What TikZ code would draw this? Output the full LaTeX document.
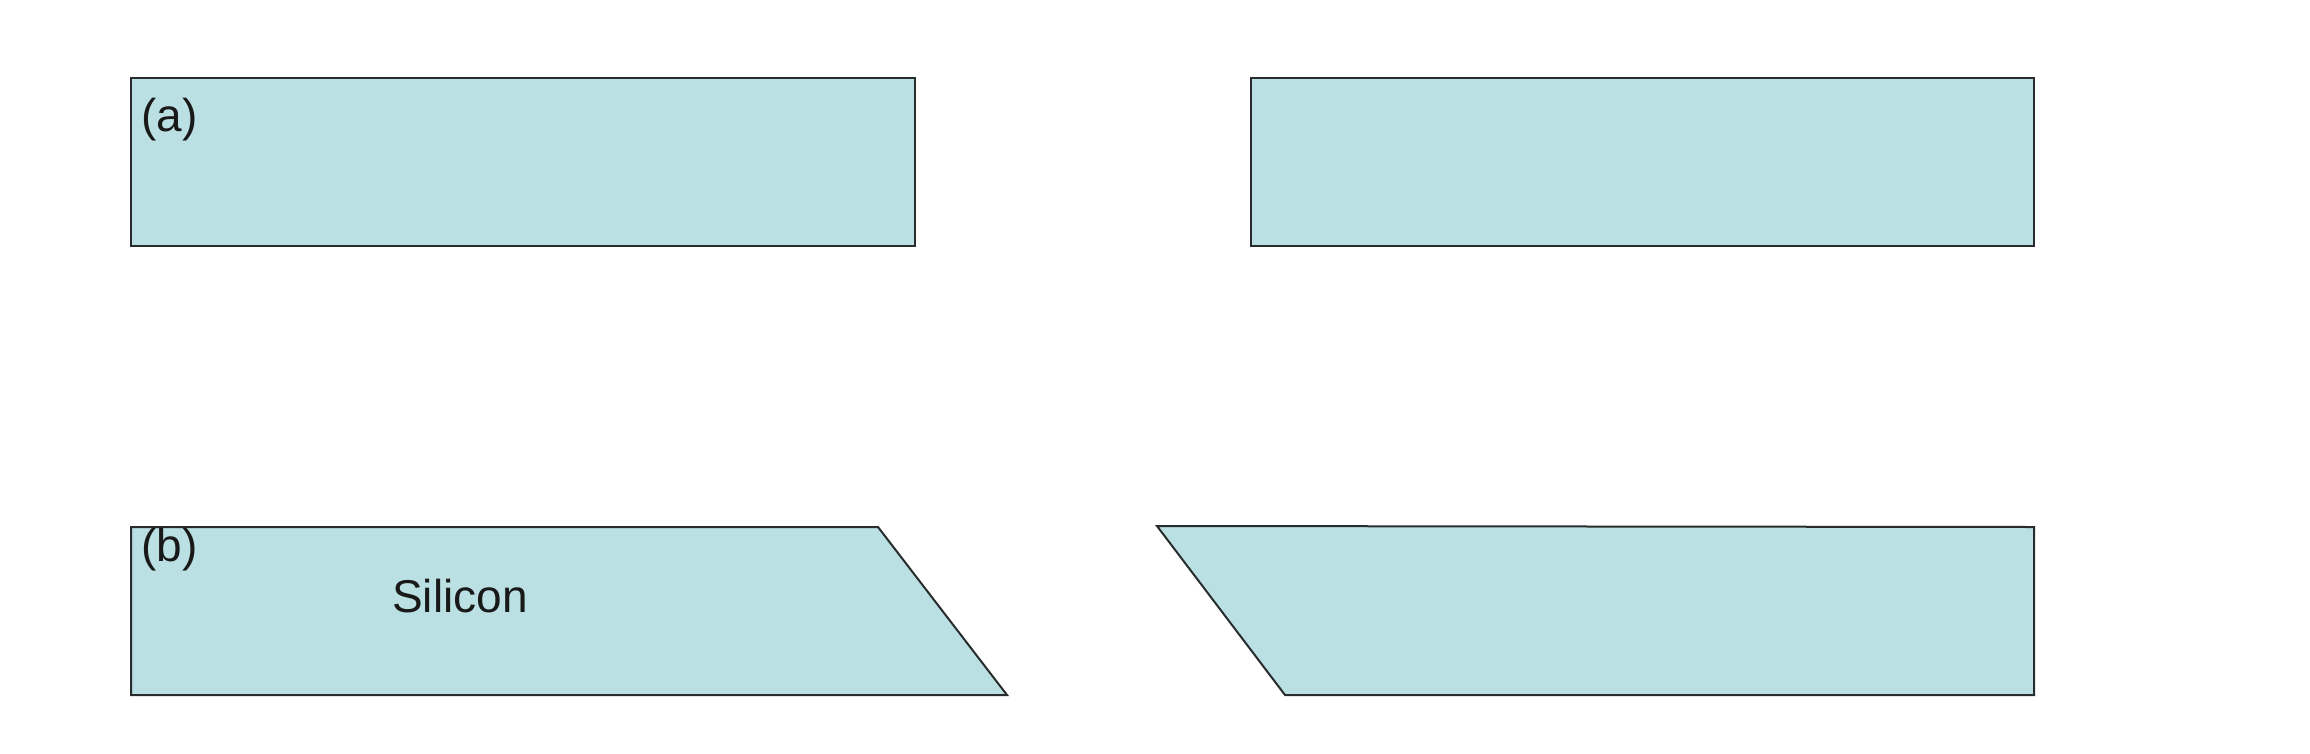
\documentclass[tikz,border=0pt]{standalone}
\usepackage{fontspec}
\setmainfont{Liberation Sans}
\definecolor{silfill}{RGB}{187,224,227}
\definecolor{silline}{RGB}{40,44,44}
\begin{document}
\begin{tikzpicture}[x=1pt,y=-1pt,
  slab/.style={fill=silfill,draw=silline,line width=2pt,line join=miter},
  lbl/.style={inner sep=0pt,font=\fontsize{46}{55}\selectfont,text=black!90}]
\useasboundingbox (0,0) rectangle (2310,753);
% (a) row
\draw[slab] (131,78) rectangle (915,246);
\draw[slab] (1251,78) rectangle (2034,246);
% (b) row
\draw[slab] (131,527) -- (878,527) -- (1007,695) -- (131,695) -- cycle;
\draw[slab] (1157,526) -- (2034,527) -- (2034,695) -- (1285,695) -- cycle;
% labels
\node[lbl,anchor=base west] (la) at (141,131) {(a)};
\node[lbl,anchor=base west] (lb) at (141,561) {(b)};
\node[lbl,anchor=base] (si) at (460,612) {Silicon};
\end{tikzpicture}
\end{document}
